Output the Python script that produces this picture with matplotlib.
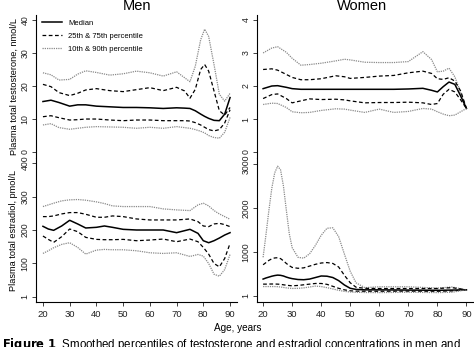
import matplotlib
matplotlib.use("Agg")
import matplotlib.pyplot as plt

plt.rcParams["font.family"] = ["Liberation Sans", "DejaVu Sans"]

# ---------------- data ----------------
men_t_age = [20, 23, 26, 30, 33, 36, 40, 45, 50, 55, 60, 65, 70, 73, 75, 77, 79, 80.5, 82, 84, 86, 88, 90]
men_t_p90 = [24.0, 23.4, 21.8, 22.0, 23.6, 24.6, 24.1, 23.3, 23.7, 24.5, 24.0, 23.0, 24.3, 22.5, 21.3, 26.0, 34.0, 37.2, 35.0, 26.5, 17.5, 15.4, 17.8]
men_t_p75 = [20.5, 19.8, 18.0, 17.1, 17.8, 18.8, 19.2, 18.6, 18.3, 18.9, 19.5, 18.6, 19.6, 18.5, 16.3, 19.0, 25.0, 26.5, 24.5, 18.5, 12.5, 11.2, 13.5]
men_t_p50 = [15.3, 15.7, 15.0, 13.9, 14.3, 14.3, 13.9, 13.7, 13.5, 13.5, 13.4, 13.2, 13.4, 13.3, 13.2, 12.5, 11.5, 10.8, 10.2, 9.6, 9.5, 11.5, 16.5]
men_t_p25 = [10.7, 11.0, 10.4, 9.7, 9.8, 10.0, 10.0, 9.7, 9.5, 9.7, 9.7, 9.5, 9.5, 9.5, 9.4, 8.9, 8.2, 7.5, 6.8, 6.4, 6.8, 8.8, 12.8]
men_t_p10 = [8.2, 8.6, 7.4, 6.9, 7.2, 7.5, 7.7, 7.6, 7.5, 7.2, 7.5, 7.2, 7.7, 7.4, 7.2, 6.8, 6.3, 5.8, 5.0, 4.4, 4.2, 6.0, 10.5]

women_t_age = [20, 23, 25, 28, 30, 33, 36, 40, 45, 48, 50, 55, 60, 65, 70, 75, 78, 80, 82, 84, 86, 88, 90]
women_t_p90 = [3.00, 3.15, 3.19, 3.02, 2.84, 2.63, 2.65, 2.69, 2.76, 2.81, 2.79, 2.72, 2.71, 2.71, 2.74, 3.04, 2.80, 2.43, 2.45, 2.54, 2.28, 1.80, 1.32]
women_t_p75 = [2.50, 2.52, 2.48, 2.35, 2.26, 2.19, 2.19, 2.22, 2.31, 2.28, 2.23, 2.26, 2.30, 2.32, 2.40, 2.45, 2.38, 2.22, 2.20, 2.25, 2.15, 1.85, 1.32]
women_t_p50 = [1.92, 2.00, 2.01, 1.96, 1.92, 1.90, 1.90, 1.90, 1.90, 1.90, 1.90, 1.90, 1.90, 1.90, 1.91, 1.93, 1.87, 1.82, 1.98, 2.12, 2.05, 1.70, 1.32]
women_t_p25 = [1.62, 1.74, 1.76, 1.62, 1.49, 1.55, 1.61, 1.59, 1.60, 1.58, 1.55, 1.49, 1.50, 1.50, 1.51, 1.49, 1.44, 1.47, 1.75, 1.90, 1.82, 1.58, 1.32]
women_t_p10 = [1.44, 1.48, 1.47, 1.35, 1.22, 1.19, 1.20, 1.26, 1.31, 1.30, 1.27, 1.20, 1.30, 1.20, 1.23, 1.32, 1.30, 1.22, 1.15, 1.10, 1.12, 1.22, 1.32]

men_e_age = [20, 22, 24, 27, 30, 33, 36, 40, 43, 46, 50, 55, 60, 65, 70, 75, 78, 80, 82, 84, 86, 88, 90]
men_e_p90 = [270, 275, 280, 287, 290, 291, 289, 284, 279, 272, 270, 270, 270, 263, 260, 258, 275, 280, 272, 258, 248, 240, 232]
men_e_p75 = [240, 240, 242, 248, 252, 252, 247, 238, 238, 242, 240, 233, 230, 230, 230, 233, 225, 212, 210, 218, 220, 216, 210]
men_e_p50 = [211, 203, 199, 212, 229, 218, 206, 208, 212, 208, 202, 200, 200, 200, 192, 202, 190, 168, 162, 168, 176, 185, 192]
men_e_p25 = [182, 172, 163, 180, 203, 195, 178, 172, 171, 171, 172, 168, 170, 173, 165, 173, 165, 148, 128, 100, 90, 115, 160]
men_e_p10 = [130, 138, 147, 157, 162, 148, 128, 140, 142, 141, 141, 138, 132, 130, 132, 121, 127, 122, 100, 68, 62, 82, 127]

women_e_age = [20, 21, 22, 23, 24, 25, 26, 27, 28, 29, 30, 32, 34, 36, 38, 40, 42, 44, 46, 48, 50, 52, 55, 60, 70, 80, 85, 90]
women_e_p90 = [880, 1400, 1950, 2450, 2800, 2950, 2870, 2500, 1950, 1420, 1100, 880, 860, 960, 1150, 1380, 1540, 1550, 1350, 950, 560, 300, 190, 210, 210, 180, 205, 140]
women_e_p75 = [710, 760, 810, 845, 865, 870, 850, 800, 740, 690, 650, 630, 640, 680, 720, 750, 760, 740, 660, 470, 300, 200, 175, 170, 170, 170, 190, 140]
women_e_p50 = [385, 410, 430, 450, 465, 475, 470, 455, 430, 410, 395, 375, 370, 385, 420, 455, 450, 420, 350, 250, 175, 150, 140, 140, 135, 130, 135, 140]
women_e_p25 = [270, 270, 272, 273, 272, 270, 265, 255, 245, 238, 232, 240, 255, 270, 285, 285, 265, 220, 175, 140, 118, 110, 108, 108, 110, 108, 115, 140]
women_e_p10 = [215, 215, 215, 215, 215, 212, 205, 195, 185, 178, 172, 175, 185, 205, 225, 215, 190, 160, 130, 105, 92, 85, 80, 78, 85, 78, 85, 140]

x_ticks = [20, 30, 40, 50, 60, 70, 80, 90]
men_t_ticks = [0, 10, 20, 30, 40]
women_t_ticks = [0, 1, 2, 3, 4]
men_e_ticks = [1, 100, 200, 300, 400]
women_e_ticks = [1, 1000, 2000, 3000]
legend_labels = ["Median", "25th & 75th percentile", "10th & 90th percentile"]

# ---------------- figure ----------------
W, H = 474, 347
fig = plt.figure(figsize=(W / 100, H / 100), dpi=100)


def rect(x0, y0, x1, y1):
    return [x0 / W, 1 - y1 / H, (x1 - x0) / W, (y1 - y0) / H]


ax_mt = fig.add_axes(rect(36, 15, 237, 158))
ax_me = fig.add_axes(rect(36, 158, 237, 302))
ax_wt = fig.add_axes(rect(257, 15, 474, 158))
ax_we = fig.add_axes(rect(257, 158, 474, 302))

styles = {
    "p50": dict(color="black", lw=1.1, ls="-"),
    "p25": dict(color="black", lw=0.9, ls=(0, (3, 2))),
    "p75": dict(color="black", lw=0.9, ls=(0, (3, 2))),
    "p10": dict(color="#8a8a8a", lw=0.9, ls=(0, (1, 0.8))),
    "p90": dict(color="#8a8a8a", lw=0.9, ls=(0, (1, 0.8))),
}

panels = [
    (ax_mt, men_t_age, [men_t_p90, men_t_p75, men_t_p50, men_t_p25, men_t_p10], (-1.8, 41.5), men_t_ticks, (17.4, 92.6)),
    (ax_me, men_e_age, [men_e_p90, men_e_p75, men_e_p50, men_e_p25, men_e_p10], (-15, 415), men_e_ticks, (17.4, 92.6)),
    (ax_wt, women_t_age, [women_t_p90, women_t_p75, women_t_p50, women_t_p25, women_t_p10], (-0.18, 4.15), women_t_ticks, (17.9, 92.6)),
    (ax_we, women_e_age, [women_e_p90, women_e_p75, women_e_p50, women_e_p25, women_e_p10], (-136, 3136), women_e_ticks, (17.9, 92.6)),
]
keys = ["p90", "p75", "p50", "p25", "p10"]

for ax, ages, series, ylim, yt, xlim in panels:
    for k, s in zip(keys, series):
        ax.plot(ages, s, **styles[k])
    ax.set_ylim(*ylim)
    ax.set_xlim(*xlim)
    ax.set_yticks(yt)
    ax.set_yticklabels([str(t) for t in yt], rotation=90, va="center")
    for sp in ["top", "right"]:
        ax.spines[sp].set_visible(False)
    ax.spines["left"].set_linewidth(0.8)
    ax.spines["bottom"].set_linewidth(0.8)
    ax.tick_params(axis="both", direction="out", length=3, width=0.6,
                   labelsize=6.3, pad=1.5, colors="#222222")

for ax in (ax_mt, ax_wt):
    ax.spines["bottom"].set_visible(False)
    ax.set_xticks([])

for ax in (ax_me, ax_we):
    ax.set_xticks(x_ticks)
    ax.set_xticklabels([str(t) for t in x_ticks])
    ax.tick_params(axis="x", pad=3, labelsize=6.8)

# legend
h1, = ax_mt.plot([], [], **styles["p50"])
h2, = ax_mt.plot([], [], **styles["p75"])
h3, = ax_mt.plot([], [], **styles["p90"])
ax_mt.legend([h1, h2, h3], legend_labels, loc="upper left",
             bbox_to_anchor=(0.03, 0.968), frameon=False, fontsize=5.5,
             handlelength=2.6, handletextpad=0.8, labelspacing=0.75,
             borderpad=0, borderaxespad=0)

# titles and labels
fig.text(136.5 / W, 1 - 6 / H, "Men", fontsize=10.5, ha="center", va="center")
fig.text(362 / W, 1 - 6 / H, "Women", fontsize=10.5, ha="center", va="center")
fig.text(14 / W, 1 - 86.5 / H, "Plasma total testosterone, nmol/L", rotation=90,
         fontsize=6.6, ha="center", va="center")
fig.text(14 / W, 1 - 230 / H, "Plasma total estradiol, pmol/L", rotation=90,
         fontsize=6.6, ha="center", va="center")
fig.text(238 / W, 1 - 328 / H, "Age, years", fontsize=7.2, ha="center", va="center")
fig.text(2 / W, 1 - 336 / H,
         r"$\bf{Figure\ 1}$  Smoothed percentiles of testosterone and estradiol concentrations in men and",
         fontsize=8.3, ha="left", va="top")

fig.savefig("out.png", dpi=100)
